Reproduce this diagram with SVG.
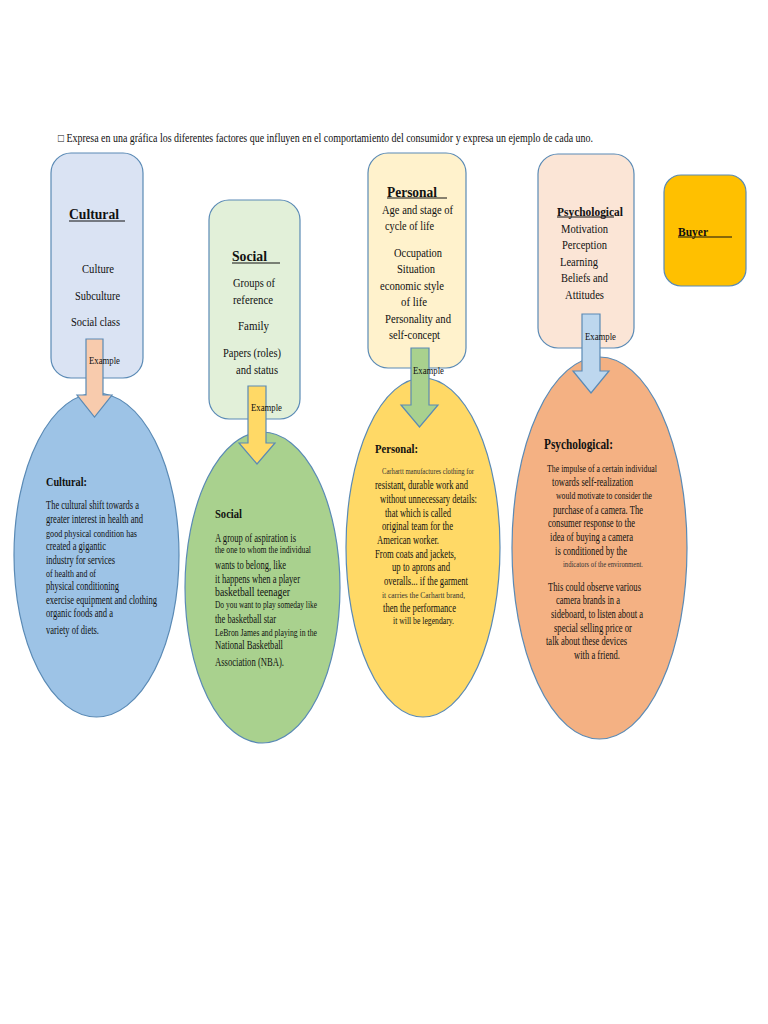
<svg xmlns="http://www.w3.org/2000/svg" width="768" height="1024" viewBox="0 0 768 1024">
<style>
text{font-family:"Liberation Serif","DejaVu Serif",serif;fill:#111;font-size:12px}
.h{font-weight:bold;font-size:15px}
.o{font-weight:bold;font-size:13px}
.s{font-size:10px}
.t{font-size:9px;fill:#333}
.e{font-size:11px}
.n{stroke:#5a8ab5;stroke-width:1.2}
.u{stroke:#111;stroke-width:1}
.a{stroke:#5a8ab5;stroke-width:1.2}
</style>
<rect width="768" height="1024" fill="#fff"/>
<text id="heading" x="58" y="142" textLength="535" lengthAdjust="spacingAndGlyphs" fill="#333">□ Expresa en una gráfica los diferentes factores que influyen en el comportamiento del consumidor y expresa un ejemplo de cada uno.</text>

<g id="box-cultural">
<rect class="n" x="51" y="153" width="92" height="225" rx="20" fill="#dae3f3"/>
<text class="h" x="69" y="219" textLength="50" lengthAdjust="spacingAndGlyphs">Cultural</text><line class="u" x1="69" y1="221" x2="125" y2="221"/>
<text x="82" y="273" textLength="32" lengthAdjust="spacingAndGlyphs">Culture</text>
<text x="75" y="300" textLength="45" lengthAdjust="spacingAndGlyphs">Subculture</text>
<text x="71" y="326" textLength="49" lengthAdjust="spacingAndGlyphs">Social class</text>
</g>
<g id="box-social">
<rect class="n" x="209" y="200" width="91" height="219" rx="20" fill="#e2f0d9"/>
<text class="h" x="232" y="261" textLength="35" lengthAdjust="spacingAndGlyphs">Social</text><line class="u" x1="232" y1="263" x2="280" y2="263"/>
<text x="233" y="287" textLength="42" lengthAdjust="spacingAndGlyphs">Groups of</text>
<text x="233" y="304" textLength="40" lengthAdjust="spacingAndGlyphs">reference</text>
<text x="238" y="330" textLength="31" lengthAdjust="spacingAndGlyphs">Family</text>
<text x="223" y="357" textLength="58" lengthAdjust="spacingAndGlyphs">Papers (roles)</text>
<text x="236" y="374" textLength="42" lengthAdjust="spacingAndGlyphs">and status</text>
</g>
<g id="box-personal">
<rect class="n" x="368" y="153" width="98" height="215" rx="20" fill="#fff2cc"/>
<text class="h" x="387" y="197" textLength="50" lengthAdjust="spacingAndGlyphs">Personal</text><line class="u" x1="387" y1="198" x2="447" y2="198"/>
<text x="382" y="214" textLength="71" lengthAdjust="spacingAndGlyphs">Age and stage of</text>
<text x="385" y="230" textLength="49" lengthAdjust="spacingAndGlyphs">cycle of life</text>
<text x="394" y="257" textLength="48" lengthAdjust="spacingAndGlyphs">Occupation</text>
<text x="397" y="273" textLength="38" lengthAdjust="spacingAndGlyphs">Situation</text>
<text x="380" y="290" textLength="64" lengthAdjust="spacingAndGlyphs">economic style</text>
<text x="401" y="306" textLength="26" lengthAdjust="spacingAndGlyphs">of life</text>
<text x="385" y="323" textLength="66" lengthAdjust="spacingAndGlyphs">Personality and</text>
<text x="389" y="339" textLength="51" lengthAdjust="spacingAndGlyphs">self-concept</text>
</g>
<g id="box-psychological">
<rect class="n" x="538" y="154" width="96" height="194" rx="20" fill="#fbe5d6"/>
<text x="557" y="216" font-weight="bold" style="font-size:13.5px" textLength="66" lengthAdjust="spacingAndGlyphs">Psychological</text><line class="u" x1="557" y1="217" x2="614" y2="217"/>
<text x="561" y="233" textLength="47" lengthAdjust="spacingAndGlyphs">Motivation</text>
<text x="562" y="249" textLength="45" lengthAdjust="spacingAndGlyphs">Perception</text>
<text x="560" y="266" textLength="38" lengthAdjust="spacingAndGlyphs">Learning</text>
<text x="561" y="282" textLength="47" lengthAdjust="spacingAndGlyphs">Beliefs and</text>
<text x="565" y="299" textLength="39" lengthAdjust="spacingAndGlyphs">Attitudes</text>
</g>
<g id="box-buyer">
<rect class="n" x="664" y="175" width="82" height="111" rx="17" fill="#ffc000"/>
<text x="678" y="236" font-weight="bold" style="font-size:13.5px" textLength="30" lengthAdjust="spacingAndGlyphs">Buyer</text><line class="u" x1="678" y1="237" x2="732" y2="237"/>
</g>

<g id="oval-cultural">
<ellipse class="n" cx="96.5" cy="555" rx="82.5" ry="162" fill="#9dc3e6"/>
<text class="o" x="46" y="486" textLength="41" lengthAdjust="spacingAndGlyphs">Cultural:</text>
<text x="46" y="509" textLength="93" lengthAdjust="spacingAndGlyphs">The cultural shift towards a</text>
<text x="46" y="523" textLength="97" lengthAdjust="spacingAndGlyphs">greater interest in health and</text>
<text class="s" x="46" y="537" textLength="91" lengthAdjust="spacingAndGlyphs">good physical condition has</text>
<text x="46" y="550" textLength="60" lengthAdjust="spacingAndGlyphs">created a gigantic</text>
<text x="46" y="564" textLength="69" lengthAdjust="spacingAndGlyphs">industry for services</text>
<text class="s" x="46" y="577" textLength="50" lengthAdjust="spacingAndGlyphs">of health and of</text>
<text x="46" y="590" textLength="73" lengthAdjust="spacingAndGlyphs">physical conditioning</text>
<text x="46" y="604" textLength="111" lengthAdjust="spacingAndGlyphs">exercise equipment and clothing</text>
<text x="46" y="617" textLength="67" lengthAdjust="spacingAndGlyphs">organic foods and a</text>
<text x="46" y="634" textLength="53" lengthAdjust="spacingAndGlyphs">variety of diets.</text>
</g>
<g id="oval-social">
<ellipse class="n" cx="262.5" cy="587.5" rx="77.5" ry="155.5" fill="#a9d18e"/>
<text class="o" x="215" y="518" textLength="27" lengthAdjust="spacingAndGlyphs">Social</text>
<text x="215" y="542" textLength="81" lengthAdjust="spacingAndGlyphs">A group of aspiration is</text>
<text class="s" x="215" y="553" textLength="96" lengthAdjust="spacingAndGlyphs">the one to whom the individual</text>
<text x="215" y="569" textLength="71" lengthAdjust="spacingAndGlyphs">wants to belong, like</text>
<text x="215" y="583" textLength="85" lengthAdjust="spacingAndGlyphs">it happens when a player</text>
<text x="215" y="596" textLength="75" lengthAdjust="spacingAndGlyphs">basketball teenager</text>
<text class="s" x="215" y="608" textLength="102" lengthAdjust="spacingAndGlyphs">Do you want to play someday like</text>
<text x="215" y="623" textLength="61" lengthAdjust="spacingAndGlyphs">the basketball star</text>
<text class="s" x="215" y="636" textLength="102" lengthAdjust="spacingAndGlyphs">LeBron James and playing in the</text>
<text x="215" y="649" textLength="68" lengthAdjust="spacingAndGlyphs">National Basketball</text>
<text x="215" y="666" textLength="69" lengthAdjust="spacingAndGlyphs">Association (NBA).</text>
</g>
<g id="oval-personal">
<ellipse class="n" cx="423" cy="547.5" rx="77" ry="169.5" fill="#ffd966"/>
<text class="o" x="375" y="453" textLength="43" lengthAdjust="spacingAndGlyphs">Personal:</text>
<text class="t" x="382" y="474" textLength="92" lengthAdjust="spacingAndGlyphs">Carhartt manufactures clothing for</text>
<text x="375" y="489" textLength="93" lengthAdjust="spacingAndGlyphs">resistant, durable work and</text>
<text x="380" y="503" textLength="97" lengthAdjust="spacingAndGlyphs">without unnecessary details:</text>
<text x="385" y="517" textLength="66" lengthAdjust="spacingAndGlyphs">that which is called</text>
<text x="382" y="530" textLength="71" lengthAdjust="spacingAndGlyphs">original team for the</text>
<text x="377" y="544" textLength="62" lengthAdjust="spacingAndGlyphs">American worker.</text>
<text x="375" y="558" textLength="81" lengthAdjust="spacingAndGlyphs">From coats and jackets,</text>
<text x="392" y="571" textLength="58" lengthAdjust="spacingAndGlyphs">up to aprons and</text>
<text x="384" y="585" textLength="84" lengthAdjust="spacingAndGlyphs">overalls... if the garment</text>
<text class="t" x="382" y="598" textLength="83" lengthAdjust="spacingAndGlyphs">it carries the Carhartt brand,</text>
<text x="383" y="612" textLength="73" lengthAdjust="spacingAndGlyphs">then the performance</text>
<text class="s" x="393" y="624" textLength="61" lengthAdjust="spacingAndGlyphs">it will be legendary.</text>
</g>
<g id="oval-psychological">
<ellipse class="n" cx="599.5" cy="548" rx="87.5" ry="191" fill="#f4b183"/>
<text class="h" x="544" y="449" textLength="69" lengthAdjust="spacingAndGlyphs">Psychological:</text>
<text class="s" x="547" y="472" textLength="110" lengthAdjust="spacingAndGlyphs">The impulse of a certain individual</text>
<text x="552" y="486" textLength="81" lengthAdjust="spacingAndGlyphs">towards self-realization</text>
<text class="s" x="556" y="499" textLength="96" lengthAdjust="spacingAndGlyphs">would motivate to consider the</text>
<text x="553" y="514" textLength="90" lengthAdjust="spacingAndGlyphs">purchase of a camera. The</text>
<text x="548" y="527" textLength="87" lengthAdjust="spacingAndGlyphs">consumer response to the</text>
<text x="550" y="541" textLength="83" lengthAdjust="spacingAndGlyphs">idea of buying a camera</text>
<text x="555" y="555" textLength="72" lengthAdjust="spacingAndGlyphs">is conditioned by the</text>
<text class="t" x="563" y="567" textLength="80" lengthAdjust="spacingAndGlyphs">indicators of the environment.</text>
<text x="548" y="591" textLength="93" lengthAdjust="spacingAndGlyphs">This could observe various</text>
<text x="556" y="604" textLength="64" lengthAdjust="spacingAndGlyphs">camera brands in a</text>
<text x="551" y="618" textLength="92" lengthAdjust="spacingAndGlyphs">sideboard, to listen about a</text>
<text x="554" y="632" textLength="78" lengthAdjust="spacingAndGlyphs">special selling price or</text>
<text x="546" y="645" textLength="81" lengthAdjust="spacingAndGlyphs">talk about these devices</text>
<text x="574" y="659" textLength="46" lengthAdjust="spacingAndGlyphs">with a friend.</text>
</g>

<g id="connectors">
<polygon class="a" fill="#f8cbad" points="86,339 103,339 103,395 112,395 94.5,417 77,395 86,395"/>
<polygon class="a" fill="#ffd966" points="248,386 266,386 266,443 275,443 257,464 239,443 248,443"/>
<polygon class="a" fill="#a9d18e" points="411,348 429,348 429,405 438,405 419.5,427 401,405 411,405"/>
<polygon class="a" fill="#bdd7ee" points="582,314 600,314 600,371 609,371 591,393 573,371 582,371"/>
<text class="e" x="89" y="364" textLength="31" lengthAdjust="spacingAndGlyphs">Example</text>
<text class="e" x="251" y="411" textLength="31" lengthAdjust="spacingAndGlyphs">Example</text>
<text class="e" x="413" y="374" textLength="31" lengthAdjust="spacingAndGlyphs">Example</text>
<text class="e" x="585" y="340" textLength="31" lengthAdjust="spacingAndGlyphs">Example</text>
</g>
</svg>
